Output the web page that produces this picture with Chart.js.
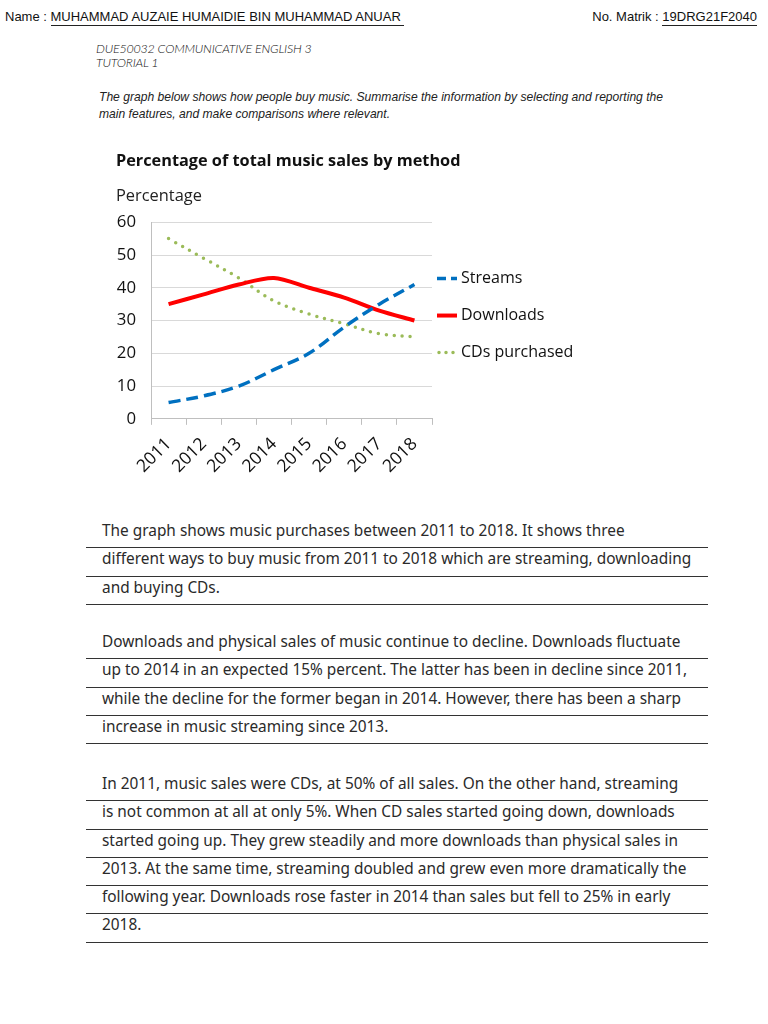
<!DOCTYPE html>
<html>
<head>
<meta charset="utf-8">
<script src="https://cdn.jsdelivr.net/npm/chart.js@4"></script>
<style>
  body { margin: 0; background: #fff; width: 768px; height: 1024px; position: relative; overflow: hidden; font-family: "Noto Sans", sans-serif; color: #222; }
  .hdr { position: absolute; top: 9px; font-family: "Liberation Sans Narrow", "Liberation Sans", sans-serif; font-size: 13px; color: #111; }
  .hdr u { text-decoration: none; border-bottom: 1px solid #222; padding-bottom: 1px; }
  .course { position: absolute; left: 96px; top: 42px; font-family: Lato, sans-serif; font-style: italic; font-weight: 300; font-size: 12.5px; line-height: 14px; color: #111; letter-spacing: -0.2px; }
  .task { position: absolute; left: 99px; top: 89px; font-family: "Liberation Sans", sans-serif; font-style: italic; font-size: 12.1px; line-height: 17px; color: #222; }
  #wrap { position: absolute; left: 114px; top: 140px; width: 486px; height: 346px; }
  .lines { position: absolute; left: 86px; width: 622px; }
  .lines div { height: 28.3px; border-bottom: 1.3px solid #333; box-sizing: border-box; padding-left: 16px; font-size: 15.4px; line-height: 22px; color: #2a2a2a; white-space: nowrap; }
</style>
</head>
<body>
<div class="hdr" style="left:5px">Name : <u>MUHAMMAD AUZAIE HUMAIDIE BIN MUHAMMAD ANUAR&nbsp;</u></div>
<div class="hdr" style="right:11px">No. Matrik : <u>19DRG21F2040</u></div>
<div class="course">DUE50032 COMMUNICATIVE ENGLISH 3<br>TUTORIAL 1</div>
<div class="task">The graph below shows how people buy music. Summarise the information by selecting and reporting the<br>main features, and make comparisons where relevant.</div>
<div id="wrap"><canvas id="c"></canvas></div>

<div class="lines" style="top:520px">
  <div>The graph shows music purchases between 2011 to 2018. It shows three</div>
  <div>different ways to buy music from 2011 to 2018 which are streaming, downloading</div>
  <div>and buying CDs.</div>
</div>
<div class="lines" style="top:631px">
  <div>Downloads and physical sales of music continue to decline. Downloads fluctuate</div>
  <div>up to 2014 in an expected 15% percent. The latter has been in decline since 2011,</div>
  <div>while the decline for the former began in 2014. However, there has been a sharp</div>
  <div>increase in music streaming since 2013.</div>
</div>
<div class="lines" style="top:773px">
  <div>In 2011, music sales were CDs, at 50% of all sales. On the other hand, streaming</div>
  <div>is not common at all at only 5%. When CD sales started going down, downloads</div>
  <div>started going up. They grew steadily and more downloads than physical sales in</div>
  <div>2013. At the same time, streaming doubled and grew even more dramatically the</div>
  <div>following year. Downloads rose faster in 2014 than sales but fell to 25% in early</div>
  <div>2018.</div>
</div>

<script>
var years = ['2011', '2012', '2013', '2014', '2015', '2016', '2017', '2018'];
var streams = [5, 7, 10, 15, 20, 28, 35, 41];
var downloads = [35, 38, 41, 43, 40, 37, 33, 30];
var cds = [55, 49, 43, 36, 32, 29, 26, 25];
var yTicks = [0, 10, 20, 30, 40, 50, 60];

var chartFont = '"Open Sans", sans-serif';

// legend at the right of the plot, like the excel one
var sideLegend = {
  id: 'sideLegend',
  afterDraw: function(chart) {
    var ctx = chart.ctx;
    var area = chart.chartArea;
    var x = area.right + 5;
    var midY = (area.top + area.bottom) / 2 - 5;
    chart.data.datasets.forEach(function(ds, i) {
      var y = midY + (i - 1) * 37;
      var dotted = ds.borderDash && ds.borderDash[0] === 0;
      ctx.save();
      ctx.strokeStyle = ds.borderColor;
      ctx.lineWidth = ds.borderWidth;
      ctx.lineCap = ds.borderCapStyle || 'butt';
      ctx.setLineDash(ds.borderDash ? (dotted ? [0, 7] : [9, 5]) : []);
      ctx.beginPath();
      ctx.moveTo(x + (dotted ? 2 : 0), y);
      ctx.lineTo(x + 20, y);
      ctx.stroke();
      ctx.setLineDash([]);
      ctx.fillStyle = '#111';
      ctx.font = '16px ' + chartFont;
      ctx.textBaseline = 'middle';
      ctx.fillText(ds.label, x + 24, y);
      ctx.restore();
    });
  }
};

new Chart(document.getElementById('c'), {
  type: 'line',
  data: {
    labels: years,
    datasets: [
      { label: 'Streams', data: streams, borderColor: '#0070c0',
        borderWidth: 3.5, borderDash: [12, 6], tension: 0.35, pointRadius: 0 },
      { label: 'Downloads', data: downloads, borderColor: '#ff0000',
        borderWidth: 4, tension: 0.3, pointRadius: 0 },
      { label: 'CDs purchased', data: cds, borderColor: '#9bbb59',
        borderWidth: 3.5, borderDash: [0, 8], borderCapStyle: 'round', tension: 0.35, pointRadius: 0 }
    ]
  },
  options: {
    responsive: true,
    maintainAspectRatio: false,
    animation: false,
    layout: { padding: { left: 2, right: 0, top: 12, bottom: 0 } },
    plugins: {
      title: {
        display: true, text: 'Percentage of total music sales by method', align: 'start',
        color: '#111', font: { family: chartFont, size: 16.3, weight: 'bold' }, padding: { top: 0, bottom: 15 }
      },
      subtitle: {
        display: true, text: 'Percentage', align: 'start',
        color: '#222', font: { family: chartFont, size: 16.4 }, padding: { top: 0, bottom: 16 }
      },
      legend: { display: false },
      tooltip: { enabled: false }
    },
    scales: {
      x: {
        offset: true,
        grid: { offset: true, drawOnChartArea: false, color: '#bfbfbf', tickLength: 6 },
        border: { color: '#bfbfbf' },
        ticks: { maxRotation: 45, minRotation: 45, color: '#111', font: { family: chartFont, size: 17.5 }, padding: 9 }
      },
      y: {
        min: 0, max: 60,
        afterBuildTicks: function(axis) { axis.ticks = yTicks.map(function(v) { return { value: v }; }); },
        afterFit: function(axis) { axis.width = 35; },
        grid: { color: '#d9d9d9', drawTicks: false },
        border: { color: '#bfbfbf' },
        ticks: { color: '#111', font: { family: chartFont, size: 16.8 }, padding: 15 }
      },
      // empty right axis, only keeps room for the legend
      legendRoom: {
        axis: 'y', position: 'right', min: 0, max: 60,
        afterFit: function(axis) { axis.width = 168; },
        grid: { display: false },
        border: { display: false },
        ticks: { display: false }
      }
    }
  },
  plugins: [sideLegend]
});
</script>
</body>
</html>
